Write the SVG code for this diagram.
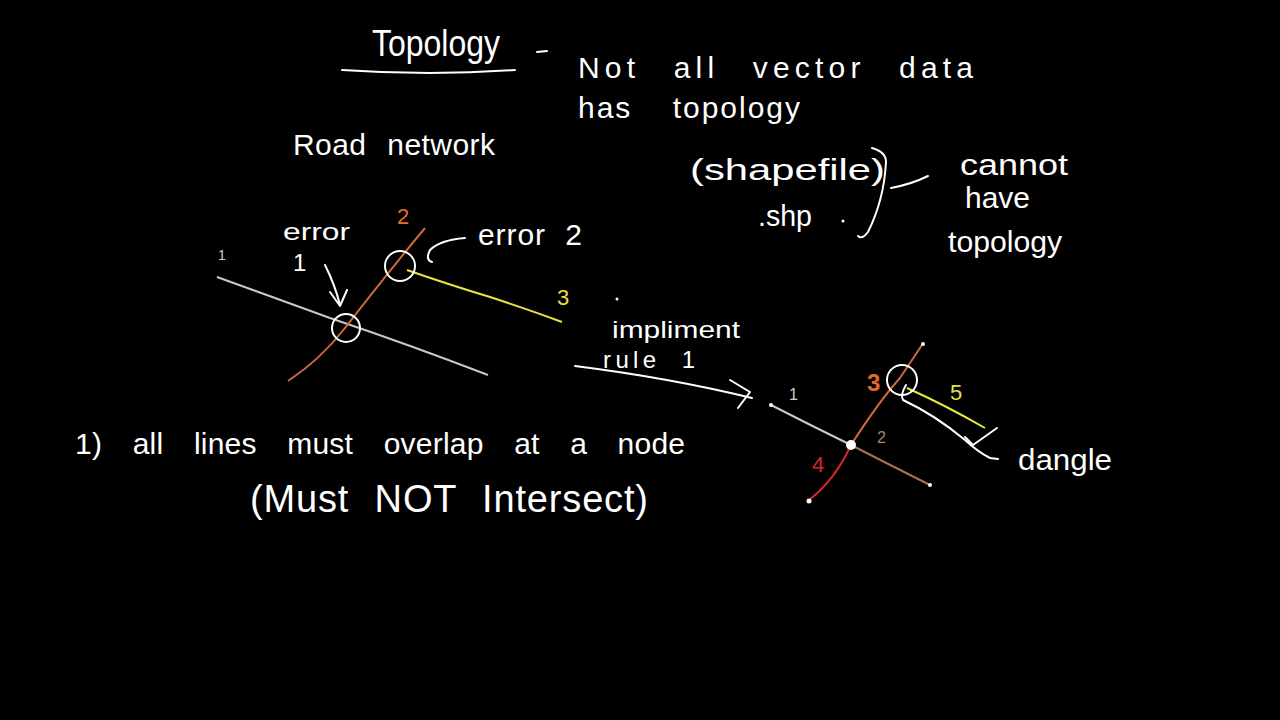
<svg xmlns="http://www.w3.org/2000/svg" width="1280" height="720" viewBox="0 0 1280 720">
<defs>
<style>
text{font-family:"Liberation Sans","DejaVu Sans",sans-serif;fill:#fff;}
.w{fill:none;stroke:#fff;stroke-width:2;stroke-linecap:round;stroke-linejoin:round;}
.t{font-size:30px;}
.m{font-size:24px;}
</style>
</defs>
<rect width="1280" height="720" fill="#000"/>

<!-- header -->
<g id="title">
<text x="372" y="56" font-size="36" textLength="128" lengthAdjust="spacingAndGlyphs">Topology</text>
<path class="w" d="M342 70 Q430 76 515 70"/>
<path class="w" d="M537 52 L547 51"/>
</g>
<g id="note-vector">
<text class="t" x="578" y="78" textLength="395" lengthAdjust="spacing" word-spacing="20">Not all vector data</text>
<text class="t" x="578" y="118" textLength="222" lengthAdjust="spacing" word-spacing="30">has topology</text>
</g>
<g id="road-network">
<text class="t" x="293" y="155" textLength="202" lengthAdjust="spacing" word-spacing="12">Road network</text>
</g>
<g id="shapefile">
<text class="t" x="690" y="180" textLength="195" lengthAdjust="spacingAndGlyphs">(shapefile)</text>
<text class="t" x="758" y="226" textLength="54" lengthAdjust="spacingAndGlyphs">.shp</text>
<circle cx="843" cy="221" r="1.5" fill="#fff"/>
<path class="w" d="M872 148 Q886 152 886 162 Q884 200 868 232 Q862 240 858 236"/>
<path class="w" d="M891 188 Q912 184 928 176"/>
</g>
<g id="cannot">
<text class="t" x="960" y="175" textLength="108" lengthAdjust="spacingAndGlyphs">cannot</text>
<text class="t" x="965" y="208" textLength="65" lengthAdjust="spacingAndGlyphs">have</text>
<text class="t" x="948" y="252" textLength="114" lengthAdjust="spacingAndGlyphs">topology</text>
</g>

<!-- left diagram -->
<g id="left-lines">
<path d="M217 277 Q280 300 330 318 Q410 345 488 375" fill="none" stroke="#c8c8c8" stroke-width="2"/>
<path d="M288 381 Q320 360 345 328 Q390 270 425 228" fill="none" stroke="#d0683a" stroke-width="2"/>
<path d="M407 270 Q450 285 490 297 Q530 310 562 322" fill="none" stroke="#e8e440" stroke-width="2"/>
<circle class="w" cx="400" cy="266" r="15"/>
<ellipse class="w" cx="346" cy="328" rx="14" ry="14"/>
<text x="218" y="260" font-size="14" style="fill:#ccc">1</text>
<text x="397" y="224" font-size="22" style="fill:#e07030">2</text>
<text x="557" y="305" font-size="22" style="fill:#e8e040">3</text>
</g>
<g id="error1">
<text class="m" x="283" y="240" textLength="67" lengthAdjust="spacingAndGlyphs">error</text>
<text class="m" x="293" y="271">1</text>
<path class="w" d="M325 265 Q335 285 340 305"/>
<path class="w" d="M330 292 L340 306 L347 290"/>
</g>
<g id="error2">
<text class="t" x="478" y="245" textLength="104" lengthAdjust="spacing" word-spacing="10">error 2</text>
<path class="w" d="M465 238 Q440 240 430 250 Q425 260 432 262"/>
</g>

<!-- arrow between -->
<g id="implement">
<circle cx="617" cy="299" r="1.5" fill="#fff"/>
<text class="m" x="612" y="338" textLength="128" lengthAdjust="spacingAndGlyphs">impliment</text>
<text class="m" x="603" y="368" textLength="92" lengthAdjust="spacing" word-spacing="10">rule 1</text>
<path class="w" d="M575 366 Q670 378 752 398"/>
<path class="w" d="M730 380 L750 392 L738 408"/>
</g>

<!-- right diagram -->
<g id="right-lines">
<path d="M771 405 Q810 425 851 445" fill="none" stroke="#c8c8c8" stroke-width="2"/>
<path d="M851 445 Q890 465 930 485" fill="none" stroke="#a87050" stroke-width="2"/>
<path d="M851 445 Q880 400 900 378 Q912 360 922 345" fill="none" stroke="#d0683a" stroke-width="2"/>
<path d="M809 500 Q835 480 851 445" fill="none" stroke="#d02828" stroke-width="2"/>
<path d="M907 388 Q945 405 985 428" fill="none" stroke="#e8e440" stroke-width="2"/>
<circle class="w" cx="902" cy="380" r="15"/>
<circle cx="851" cy="445" r="5" fill="#fff"/>
<circle cx="771" cy="405" r="2" fill="#fff"/>
<circle cx="930" cy="485" r="2" fill="#fff"/>
<circle cx="809" cy="501" r="2.5" fill="#fff"/>
<circle cx="923" cy="344" r="2" fill="#fff"/>
<text x="789" y="400" font-size="16" style="fill:#ccc">1</text>
<text x="877" y="443" font-size="16" style="fill:#b08060">2</text>
<text x="867" y="391" font-size="24" font-weight="bold" style="fill:#e06a28">3</text>
<text x="950" y="400" font-size="22" style="fill:#e8e040">5</text>
<text x="812" y="472" font-size="22" style="fill:#d02828">4</text>
</g>
<g id="dangle">
<path class="w" d="M906 385 Q900 395 903 400 Q935 415 965 440 Q978 452 990 458 L998 459"/>
<path class="w" d="M965 437 L973 445 L997 428"/>
<text class="t" x="1018" y="470" textLength="94" lengthAdjust="spacingAndGlyphs">dangle</text>
</g>

<!-- rule -->
<g id="rule1">
<text class="t" x="75" y="454" textLength="610" lengthAdjust="spacing" word-spacing="22">1) all lines must overlap at a node</text>
<text x="250" y="512" font-size="38" textLength="398" lengthAdjust="spacing" word-spacing="14">(Must NOT Intersect)</text>
</g>
</svg>
